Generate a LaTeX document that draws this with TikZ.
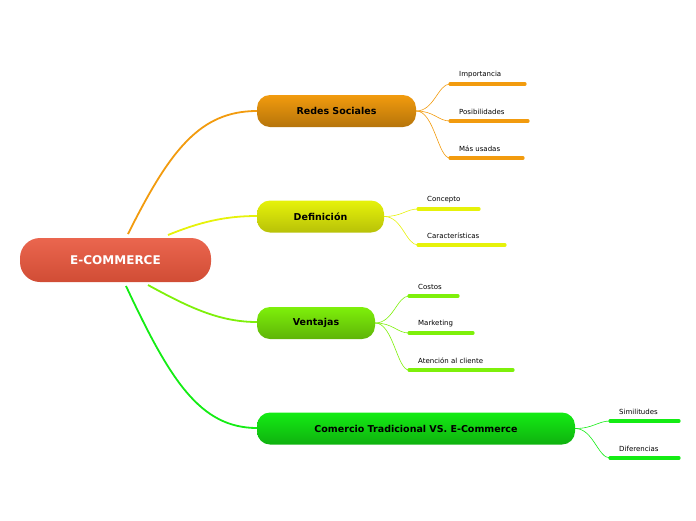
\documentclass[tikz,border=0pt]{standalone}
\usepackage{fontspec}
\setmainfont{DejaVu Sans}
\begin{document}
\begin{tikzpicture}[x=1pt,y=-1pt,
  topic/.style={rounded corners=13pt,draw=none,font=\bfseries\fontsize{9.5}{11}\selectfont,text=black,minimum height=32pt},
  leaf/.style={font=\fontsize{7}{8}\selectfont,anchor=south west,inner sep=1pt},
  uline/.style={line width=3.2pt,line cap=round}]
\definecolor{cred}{HTML}{E8553B}
\definecolor{corg}{HTML}{F29B0E}
\definecolor{cyel}{HTML}{E6F20A}
\definecolor{clim}{HTML}{7EF00A}
\definecolor{cgrn}{HTML}{14EC14}
\useasboundingbox (0,0) rectangle (696,520);
% main connectors
\draw[corg,line width=1.8pt] (128,234) .. controls (170,150) and (200,111) .. (257,111);
\draw[cyel,line width=1.8pt] (168,235) .. controls (200,222) and (225,216) .. (257,216);
\draw[clim,line width=1.8pt] (148,285) .. controls (190,308) and (220,322) .. (257,322);
\draw[cgrn,line width=1.8pt] (126,286) .. controls (170,380) and (200,428) .. (257,428);
% nodes
\node[rounded corners=20pt,minimum width=191pt,minimum height=44pt,top color=cred!90!white,bottom color=cred!90!black,text=white,font=\bfseries\fontsize{12}{14}\selectfont] (root) at (115.5,260) {E-COMMERCE};
\node[topic,minimum width=159pt,top color=corg,bottom color=corg!75!black] (rs) at (336.5,111) {Redes Sociales};
\node[topic,minimum width=127pt,top color=cyel,bottom color=cyel!80!black] (def) at (320.5,216.5) {Definición};
\node[topic,minimum width=118pt,top color=clim,bottom color=clim!75!black] (ven) at (316,323) {Ventajas};
\node[topic,minimum width=318pt,top color=cgrn,bottom color=cgrn!75!black] (com) at (416,428.5) {Comercio Tradicional VS. E-Commerce};
% leaves
\foreach \n/\t/\xa/\xb/\y/\c/\pn in {
  a/Importancia/450/525/84/corg/rs,
  b/Posibilidades/450/528/121/corg/rs,
  c/Más usadas/450/523/158/corg/rs,
  d/Concepto/418/479/209/cyel/def,
  e/Características/418/505/245/cyel/def,
  f/Costos/409/458/296/clim/ven,
  g/Marketing/409/473/333/clim/ven,
  h/Atención al cliente/409/513/370/clim/ven,
  i/Similitudes/610/679/421/cgrn/com,
  j/Diferencias/610/679/458/cgrn/com}{
  \coordinate (s\n) at (\xa,\y);
  \coordinate (e\n) at (\xb,\y);
  \draw[\c,uline] (s\n) -- (e\n);
  \node[leaf] (t\n) at (\xa+8,\y-5) {\t};
  \draw[\c,line width=0.6pt] (\pn.east) .. controls +(18,0) and +(-12,0) .. (s\n);
}
\end{tikzpicture}
\end{document}
